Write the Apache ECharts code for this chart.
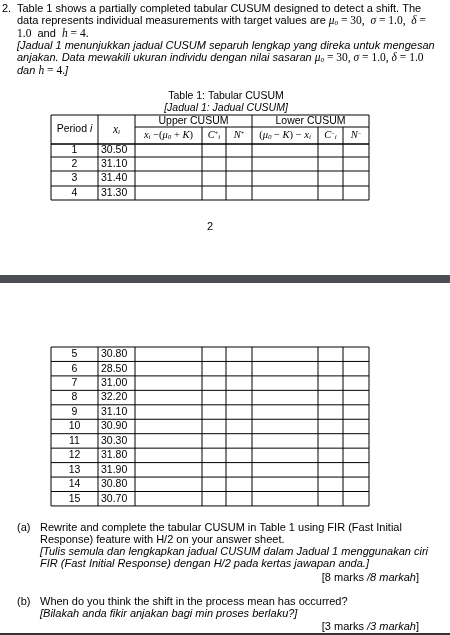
<!DOCTYPE html>
<html><head><meta charset="utf-8">
<script src="https://cdn.jsdelivr.net/npm/echarts@6/dist/echarts.min.js"></script>
<style>html,body{margin:0;padding:0;background:#fff}#c{width:450px;height:635px}</style>
</head><body><div id="c"></div>
<script>
var periods1 = [1, 2, 3, 4];
var values1 = ['30.50', '31.10', '31.40', '31.30'];
var periods2 = [5, 6, 7, 8, 9, 10, 11, 12, 13, 14, 15];
var values2 = ['30.80', '28.50', '31.00', '32.20', '31.10', '30.90', '30.30', '31.80', '31.90', '30.80', '30.70'];
var pageNumber = '2';

var SANS = 'Liberation Sans, Arial, sans-serif';
var SERIF = 'Liberation Serif, Times New Roman, serif';
var FS = 11;
var rich = {
  n: {fontFamily: SANS, fontSize: FS, fill: '#000'},
  i: {fontFamily: SANS, fontSize: FS, fontStyle: 'italic', fill: '#000'},
  m: {fontFamily: SERIF, fontSize: FS + 0.5, fontStyle: 'italic', fill: '#000'},
  r: {fontFamily: SERIF, fontSize: FS + 0.5, fill: '#000'},
  s: {fontFamily: SERIF, fontSize: 7, fontStyle: 'italic', fill: '#000', verticalAlign: 'bottom', padding: [4, 0, 0, 0]},
  p: {fontFamily: SERIF, fontSize: 6, fill: '#000', verticalAlign: 'top', padding: [0, 0, 4, 0]},
  t: {fontFamily: SANS, fontSize: 10.5, fill: '#000'},
  ti: {fontFamily: SANS, fontSize: 10.5, fontStyle: 'italic', fill: '#000'},
  tm: {fontFamily: SERIF, fontSize: 10.5, fontStyle: 'italic', fill: '#000'},
  tr: {fontFamily: SERIF, fontSize: 10.5, fill: '#000'}
};
var g = [];
function T(x, y, str, align, extra) {
  var st = {text: str, x: x, y: y, align: align || 'left', verticalAlign: 'middle', rich: rich,
    fontFamily: SANS, fontSize: FS, fill: '#000'};
  if (extra) for (var k in extra) st[k] = extra[k];
  g.push({type: 'text', style: st});
}
function L(x1, y1, x2, y2, w) {
  g.push({type: 'line', shape: {x1: x1, y1: y1, x2: x2, y2: y2}, style: {stroke: '#000', lineWidth: w || 1}});
}

// top text
T(2, 9, '{n|2.}');
T(17, 9, '{n|Table 1 shows a partially completed tabular CUSUM designed to detect a shift. The}');
T(17, 21, '{n|data represents individual measurements with target values are }{m|μ}{s|0}{r| = 30,  }{m|σ}{r| = 1.0,  }{m|δ}{r| =}');
T(17, 34, '{r|1.0}{n|  and  }{m|h}{r| = 4.}');
T(17, 46, '{i|[Jadual 1 menunjukkan jadual CUSUM separuh lengkap yang direka untuk mengesan}');
T(17, 58, '{i|anjakan. Data mewakili ukuran individu dengan nilai sasaran }{m|μ}{s|0}{r| = 30, }{m|σ}{r| = 1.0, }{m|δ}{r| = 1.0}');
T(17, 71, '{i|dan }{m|h}{r| = 4.}{i|]}');

// table title
T(226, 96, '{t|Table 1: Tabular CUSUM}', 'center');
T(226, 108, '{ti|[Jadual 1: Jadual CUSUM]}', 'center');

var cx = [51, 98, 135, 202, 226, 252, 318, 343, 369];
function table(top, hdr, rowsY, periods, values) {
  var bottom = rowsY[rowsY.length - 1];
  if (hdr) {
    var mid = top + 12, hb = top + 29;
    L(cx[0], top, cx[8], top);
    L(cx[2], mid, cx[8], mid);
    L(cx[0], hb, cx[8], hb);
    cx.forEach(function (x, j) {
      var y0 = (j === 3 || j === 4 || j === 6 || j === 7) ? mid : top;
      L(x, y0, x, bottom);
    });
    T((cx[0] + cx[1]) / 2, (top + hb) / 2, '{t|Period }{ti|i}', 'center');
    T((cx[1] + cx[2]) / 2, (top + hb) / 2, '{m|x}{s|i}', 'center');
    T((cx[2] + cx[5]) / 2, top + 6, '{t|Upper CUSUM}', 'center');
    T((cx[5] + cx[8]) / 2, top + 6, '{t|Lower CUSUM}', 'center');
    var sy = (mid + hb) / 2;
    T((cx[2] + cx[3]) / 2, sy, '{tm|x}{s|i}{tr| −(}{tm|μ}{s|0}{tr| + }{tm|K}{tr|)}', 'center');
    T((cx[3] + cx[4]) / 2, sy, '{tm|C}{p|+}{s|i}', 'center');
    T((cx[4] + cx[5]) / 2, sy, '{tm|N}{p|+}', 'center');
    T((cx[5] + cx[6]) / 2, sy, '{tr|(}{tm|μ}{s|0}{tr| − }{tm|K}{tr|) − }{tm|x}{s|i}', 'center');
    T((cx[6] + cx[7]) / 2, sy, '{tm|C}{p|−}{s|i}', 'center');
    T((cx[7] + cx[8]) / 2, sy, '{tm|N}{p|−}', 'center');
  } else {
    cx.forEach(function (x) { L(x, top, x, bottom); });
  }
  rowsY.forEach(function (y) { L(cx[0], y, cx[8], y); });
  periods.forEach(function (p, k) {
    var yc = (rowsY[k] + rowsY[k + 1]) / 2;
    T((cx[0] + cx[1]) / 2, yc, '{t|' + p + '}', 'center');
    T(cx[1] + 3, yc, '{t|' + values[k] + '}', 'left');
  });
}
table(115, true, [144, 157, 171, 186, 200], periods1, values1);
var r2 = [];
for (var k = 0; k <= periods2.length; k++) r2.push(347 + k * 14.45);
table(347, false, r2, periods2, values2);

T(210, 227, '{n|' + pageNumber + '}', 'center', {});
g.push({type: 'rect', shape: {x: 0, y: 275, width: 450, height: 8}, style: {fill: '#4b4e52'}});
g.push({type: 'rect', shape: {x: 0, y: 633, width: 450, height: 2}, style: {fill: '#333'}});

// questions
T(17, 528, '{n|(a)}');
T(40, 528, '{n|Rewrite and complete the tabular CUSUM in Table 1 using FIR (Fast Initial}');
T(40, 540, '{n|Response) feature with H/2 on your answer sheet.}');
T(40, 552, '{i|[Tulis semula dan lengkapkan jadual CUSUM dalam Jadual 1 menggunakan ciri}');
T(40, 564, '{i|FIR (Fast Initial Response) dengan H/2 pada kertas jawapan anda.]}');
T(419, 578, '{n|[8 marks }{i|/8 markah}{n|]}', 'right');
T(17, 602, '{n|(b)}');
T(40, 602, '{n|When do you think the shift in the process mean has occurred?}');
T(40, 614, '{i|[Bilakah anda fikir anjakan bagi min proses berlaku?]}');
T(419, 627, '{n|[3 marks }{i|/3 markah}{n|]}', 'right');

var chart = echarts.init(document.getElementById('c'), null, {renderer: 'canvas'});
chart.setOption({backgroundColor: '#fff', animation: false, graphic: {elements: g}});
</script></body></html>
